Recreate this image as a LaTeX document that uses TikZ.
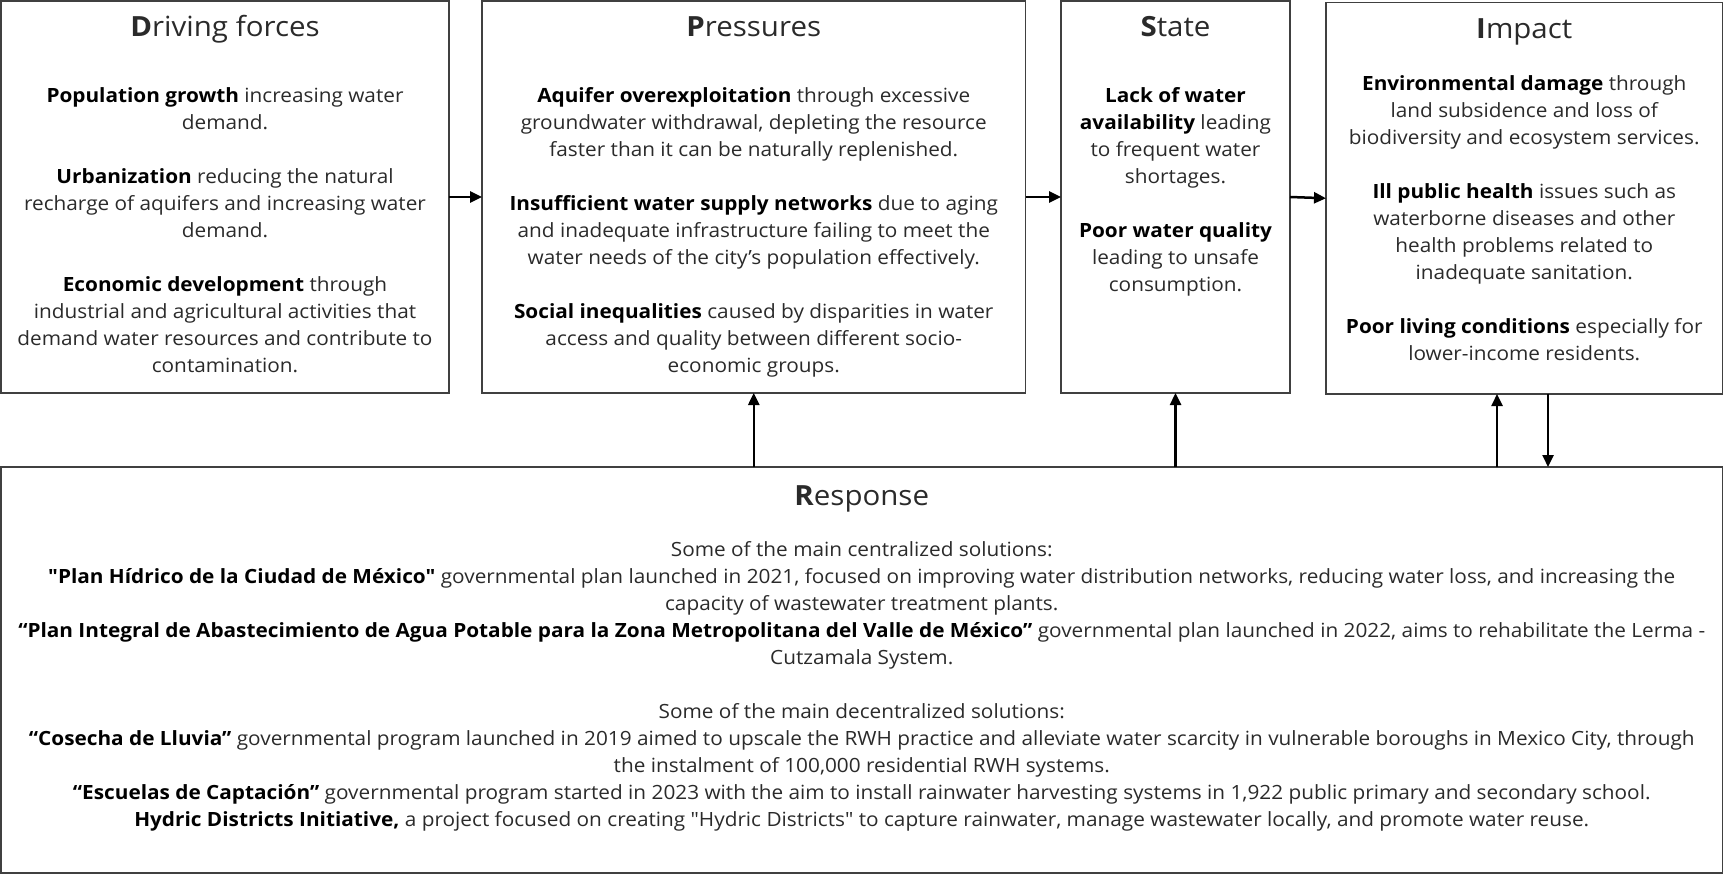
\documentclass[tikz,border=0pt]{standalone}
\usepackage{fontspec}
\newfontfamily\bfam{Open Sans}[FakeStretch=1.06]
\newfontfamily\tfam{Open Sans}[FakeStretch=1.06]
\usetikzlibrary{arrows.meta,calc}
\definecolor{linec}{HTML}{404040}
\definecolor{txtc}{HTML}{2A2A2A}
\newcommand{\bodyf}{\bfam\fontsize{19.6}{27}\selectfont}
\newcommand{\titlef}{\tfam\fontsize{27.8}{32}\selectfont}
\newcommand{\pgap}{\\[27pt]}
\newcommand{\bb}[1]{\textbf{\color{black}#1}}
\begin{document}
\begin{tikzpicture}[x=1pt,y=-1pt,
  boxst/.style={draw=linec, line width=1.7pt, inner sep=0pt, outer sep=0pt, anchor=north west},
  ttl/.style={font=\titlef, text=txtc, anchor=base, inner sep=0pt},
  bodyt/.style={font=\bodyf, text=txtc, align=center, anchor=north, inner sep=0pt},
  arr/.style={draw=black, line width=2.5pt, -{Triangle[length=12pt,width=11pt]}}]
\useasboundingbox (0,0) rectangle (1724,874);
% boxes
\node[boxst, minimum width=448pt, minimum height=392pt] (df) at (1,1) {};
\node[boxst, minimum width=543.5pt, minimum height=392pt] (pr) at (482,1) {};
\node[boxst, minimum width=229pt, minimum height=392pt] (st) at (1061,1) {};
\node[boxst, minimum width=396.5pt, minimum height=391.5pt] (im) at (1326,2.5) {};
\node[boxst, minimum width=1721.5pt, minimum height=406pt] (rs) at (1,467) {};
% titles
\node[ttl] (dft) at (225,37) {\textbf{D}riving forces};
\node[ttl] (prt) at (753.75,37) {\textbf{P}ressures};
\node[ttl] (stt) at (1175.5,37) {\textbf{S}tate};
\node[ttl] (imt) at (1524.25,39) {\textbf{I}mpact};
\node[ttl] (rst) at (861.75,505) {\textbf{R}esponse};
% bodies
\node[bodyt] (dfb) at (225,87.5) {\bb{Population growth} increasing water\\ demand.\pgap
\bb{Urbanization} reducing the natural\\ recharge of aquifers and increasing water\\ demand.\pgap
\bb{Economic development} through\\ industrial and agricultural activities that\\ demand water resources and contribute to\\ contamination.};
\node[bodyt] (prb) at (753.75,87.5) {\bb{Aquifer overexploitation} through excessive\\ groundwater withdrawal, depleting the resource\\ faster than it can be naturally replenished.\pgap
\bb{Insufficient water supply networks} due to aging\\ and inadequate infrastructure failing to meet the\\ water needs of the city’s population effectively.\pgap
\bb{Social inequalities} caused by disparities in water\\ access and quality between different socio-\\ economic groups.};
\node[bodyt] (stb) at (1175.5,87.5) {\bb{Lack of water}\\ \bb{availability} leading\\ to frequent water\\ shortages.\pgap
\bb{Poor water quality}\\ leading to unsafe\\ consumption.};
\node[bodyt] (imb) at (1524.25,75.5) {\bb{Environmental damage} through\\ land subsidence and loss of\\ biodiversity and ecosystem services.\pgap
\bb{Ill public health} issues such as\\ waterborne diseases and other\\ health problems related to\\ inadequate sanitation.\pgap
\bb{Poor living conditions} especially for\\ lower-income residents.};
\node[bodyt] (rsb) at (861.75,541.5) {Some of the main centralized solutions:\\
\bb{"Plan Hídrico de la Ciudad de México"} governmental plan launched in 2021, focused on improving water distribution networks, reducing water loss, and increasing the\\
capacity of wastewater treatment plants.\\
\bb{“Plan Integral de Abastecimiento de Agua Potable para la Zona Metropolitana del Valle de México”} governmental plan launched in 2022, aims to rehabilitate the Lerma -\\
Cutzamala System.\pgap
Some of the main decentralized solutions:\\
\bb{“Cosecha de Lluvia”} governmental program launched in 2019 aimed to upscale the RWH practice and alleviate water scarcity in vulnerable boroughs in Mexico City, through\\
the instalment of 100,000 residential RWH systems.\\
\bb{“Escuelas de Captación”} governmental program started in 2023 with the aim to install rainwater harvesting systems in 1,922 public primary and secondary school.\\
\bb{Hydric Districts Initiative,} a project focused on creating "Hydric Districts" to capture rainwater, manage wastewater locally, and promote water reuse.};
% connectors
\coordinate (iu) at (1497,394);
\coordinate (id) at (1548,394);
\draw[arr] (df.east) -- (pr.west);
\draw[arr] (pr.east) -- (st.west);
\draw[arr] (st.east) -- (im.west);
\draw[arr] (rs.north -| pr.south) -- (pr.south);
\draw[arr] (rs.north -| st.south) -- (st.south);
\draw[arr] (rs.north -| iu) -- (iu);
\draw[arr] (id) -- (rs.north -| id);
\end{tikzpicture}
\end{document}
